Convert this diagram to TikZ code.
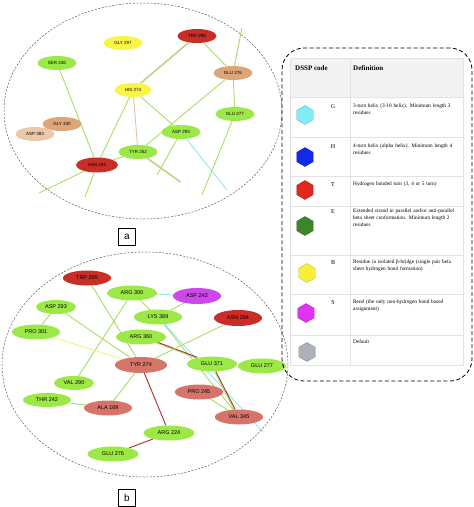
\documentclass[tikz,border=0pt]{standalone}
\usepackage{fontspec}
\setmainfont{Liberation Serif}
\setsansfont{Liberation Sans}
\usetikzlibrary{shapes.geometric,backgrounds}
\hyphenpenalty=10000

\definecolor{resgreen}{RGB}{155,232,70}
\definecolor{resred}{RGB}{200,45,40}
\definecolor{restan}{RGB}{222,165,120}
\definecolor{reslighttan}{RGB}{236,200,170}
\definecolor{resyellow}{RGB}{250,244,70}
\definecolor{ressalmon}{RGB}{214,116,106}
\definecolor{resmagenta}{RGB}{205,72,235}
\definecolor{edgegreen}{RGB}{168,222,100}
\definecolor{edgetan}{RGB}{228,188,155}
\definecolor{edgecyan}{RGB}{150,228,236}
\definecolor{edgered}{RGB}{175,40,40}
\definecolor{edgeyellow}{RGB}{245,240,120}
\definecolor{rulegray}{RGB}{226,226,226}
\definecolor{headgray}{RGB}{243,243,243}
\definecolor{hexcyan}{RGB}{130,236,246}
\definecolor{hexblue}{RGB}{20,40,232}
\definecolor{hexred}{RGB}{222,42,30}
\definecolor{hexgreen}{RGB}{62,132,42}
\definecolor{hexyellow}{RGB}{246,240,60}
\definecolor{hexmagenta}{RGB}{222,52,242}
\definecolor{hexgray}{RGB}{172,176,186}

\begin{document}
\begin{tikzpicture}[
      x=1pt, y=-1pt,
      res/.style={ellipse, inner sep=0pt},
      topres/.style={res, minimum width=39pt, minimum height=14pt,
          font=\sffamily\fontsize{4.5}{4.5}\selectfont},
      botres/.style={res, minimum width=48pt, minimum height=15pt,
          font=\sffamily\fontsize{5.5}{5.5}\selectfont},
      gres/.style={fill=resgreen},
      rres/.style={fill=resred},
      tres/.style={fill=restan},
      ltres/.style={fill=reslighttan},
      yres/.style={fill=resyellow},
      sres/.style={fill=ressalmon},
      mres/.style={fill=resmagenta},
      gline/.style={draw=edgegreen, line width=0.9pt},
      tline/.style={draw=edgetan, line width=0.8pt},
      cline/.style={draw=edgecyan, line width=0.9pt},
      rline/.style={draw=edgered, line width=0.9pt},
      yline/.style={draw=edgeyellow, line width=0.9pt},
      panel/.style={ellipse, draw=black!65, dash pattern=on 2pt off 1.5pt, line width=0.5pt},
      lbl/.style={draw, fill=white, minimum size=17pt, inner sep=0pt,
          font=\sffamily\fontsize{10}{10}\selectfont},
      hex/.style={regular polygon, regular polygon sides=6, shape border rotate=30,
          minimum size=19pt, inner sep=0pt, fill=#1, draw=#1!75!black, line width=0.3pt},
      code/.style={font=\fontsize{6}{6}\selectfont, inner sep=0pt},
      defn/.style={anchor=north west, text width=105pt, align=left, inner sep=0pt,
          font=\fontsize{5.3}{7}\selectfont}
    ]
    \useasboundingbox (0,0) rectangle (474,507);

    \node[panel, minimum width=278pt, minimum height=216pt] (panelA) at (143,111) {};
    \node[panel, minimum width=286pt, minimum height=225pt] (panelB) at (145,364.5) {};
    \node[lbl] (labA) at (127,237) {a};
    \node[lbl] (labB) at (127,498) {b};

    \node[topres, rres] (trpA) at (197,36) {TRP 295};
    \node[topres, yres] (glyA) at (123,43) {GLY 297};
    \node[topres, gres] (serA) at (57,63) {SER 246};
    \node[topres, tres] (glu276A) at (233,73) {GLU 276};
    \node[topres, yres, minimum width=37pt] (hisA) at (133,90) {HIS 274};
    \node[topres, gres] (glu277A) at (235,114) {GLU 277};
    \node[topres, tres] (glyB) at (62,124) {GLY 330};
    \node[topres, ltres] (aspA383) at (35,134) {ASP 383};
    \node[topres, gres] (aspA) at (181,132) {ASP 293};
    \node[topres, gres] (tyrA) at (138,152) {TYR 252};
    \node[topres, rres, minimum width=42pt, minimum height=15pt] (asnA) at (97,165) {ASN 294};
    \coordinate (topA) at (242,28);
    \coordinate (endA1) at (180,182);
    \coordinate (endA2) at (202,195);
    \coordinate (endA3) at (157,175);
    \coordinate (endA4) at (227,190);
    \coordinate (endA5) at (39,193);
    \coordinate (endA6) at (85,197);

    \node[botres, rres] (trpB) at (87,278) {TRP 295};
    \node[botres, gres, minimum width=50pt] (arg300B) at (132,293) {ARG 300};
    \node[botres, mres, minimum height=16pt] (asp242B) at (197,296) {ASP 242};
    \node[botres, gres, minimum width=40pt, minimum height=14pt] (asp293B) at (56,307) {ASP 293};
    \node[botres, gres] (lysB) at (158,317) {LYS 389};
    \node[botres, rres, minimum height=16pt] (asnB) at (238,318) {ASN 294};
    \node[botres, gres] (proB301) at (36,332) {PRO 301};
    \node[botres, gres, minimum width=50pt] (arg360B) at (141,337) {ARG 360};
    \node[botres, sres, minimum width=52pt, minimum height=16pt] (tyrB) at (141,365) {TYR 274};
    \node[botres, gres, minimum width=50pt] (glu371B) at (212,364) {GLU 371};
    \node[botres, gres] (glu277B) at (262,366) {GLU 277};
    \node[botres, gres, minimum width=40pt, minimum height=14pt] (valB290) at (74,383) {VAL 290};
    \node[botres, sres] (proB245) at (199,392) {PRO 245};
    \node[botres, gres, minimum height=14pt] (thrB) at (47,400) {THR 242};
    \node[botres, sres] (alaB) at (108,408) {ALA 169};
    \node[botres, sres] (valB345) at (239,417) {VAL 345};
    \node[botres, gres, minimum width=51pt] (arg224B) at (169,433) {ARG 224};
    \node[botres, gres, minimum width=51pt] (glu276B) at (113,454) {GLU 276};
    \coordinate (endB1) at (263,432);

    \begin{scope}[on background layer]
      \draw[gline] (serA) -- (asnA);
      \draw[gline] (hisA) -- (trpA);
      \draw[tline, transform canvas={xshift=-1.2pt}] (hisA) -- (trpA);
      \draw[gline] (hisA) -- (asnA);
      \draw[gline] (hisA) -- (aspA);
      \draw[tline] (hisA) -- (tyrA);
      \draw[gline] (tyrA) -- (endA1);
      \draw[tline, transform canvas={xshift=1.2pt}] (tyrA) -- (endA1);
      \draw[gline] (glu276A) -- (tyrA);
      \draw[gline] (trpA) -- (glu276A);
      \draw[gline] (glu276A) -- (topA);
      \draw[gline] (glu276A) -- (glu277A);
      \draw[gline] (glu277A) -- (endA2);
      \draw[gline] (aspA) -- (endA3);
      \draw[cline] (aspA) -- (endA4);
      \draw[gline] (asnA) -- (endA5);
      \draw[gline] (asnA) -- (endA6);
      \draw[gline] (tyrA) -- (asnA);

      \draw[gline] (trpB) -- (tyrB);
      \draw[gline] (arg300B) -- (valB290);
      \draw[cline] (arg300B) -- (asp242B);
      \draw[gline] (arg300B) -- (lysB);
      \draw[gline] (asp242B) -- (lysB);
      \draw[gline] (lysB) -- (valB345);
      \draw[cline] (lysB) -- (endB1);
      \draw[gline] (arg360B) -- (glu371B);
      \draw[rline, transform canvas={xshift=1.2pt, yshift=0.6pt}] (arg360B) -- (glu371B);
      \draw[rline] (glu371B) -- (valB345);
      \draw[gline, transform canvas={xshift=-1.3pt}] (glu371B) -- (valB345);
      \draw[gline] (proB245) -- (valB345);
      \draw[gline] (asp293B) -- (proB301);
      \draw[gline] (asp293B) -- (tyrB);
      \draw[yline] (proB301) -- (tyrB);
      \draw[gline] (asnB) -- (tyrB);
      \draw[gline] (tyrB) -- (alaB);
      \draw[rline] (tyrB) -- (arg224B);
      \draw[gline] (thrB) -- (alaB);
      \draw[rline] (arg224B) -- (glu276B);
    \end{scope}

    \node[draw, line width=0.8pt, dash pattern=on 4pt off 2.5pt, rounded corners=22pt,
      minimum width=190pt, minimum height=333pt] (legend) at (377,214.5) {};
    \fill[headgray] (290,58) rectangle (463,97);
    \draw[rulegray, line width=0.5pt] (290,58) rectangle (463,365);
    \foreach \yy in {97,137,176,206,255,294,335}
      \draw[rulegray, line width=0.6pt] (290,\yy) -- (463,\yy);
    \draw[rulegray, line width=0.6pt] (350,58) -- (350,365);

    \node[anchor=west, inner sep=0pt, font=\fontsize{7}{7}\selectfont\bfseries] (hcode) at (295,68) {DSSP code};
    \node[anchor=west, inner sep=0pt, font=\fontsize{7}{7}\selectfont\bfseries] (hdef) at (353,68) {Definition};

    \node[hex=hexcyan] (hexG) at (305,115) {};
    \node[code] (codeG) at (333,107) {G};
    \node[defn] (defG) at (353,104) {3-turn helix (3-10 helix). Minimum length 3 residues};

    \node[hex=hexblue] (hexH) at (305,157) {};
    \node[code] (codeH) at (333,147) {H};
    \node[defn] (defH) at (353,144) {4-turn helix (alpha helix). Minimum length 4 residues};

    \node[hex=hexred] (hexT) at (305,190) {};
    \node[code] (codeT) at (333,185) {T};
    \node[defn] (defT) at (353,182) {Hydrogen bonded turn (3, 4 or 5 turn)};

    \node[hex=hexgreen] (hexE) at (305,226) {};
    \node[code] (codeE) at (333,212) {E};
    \node[defn] (defE) at (353,209) {Extended strand in parallel and/or anti-parallel beta sheet conformation. Minimum length 2 residues};

    \node[hex=hexyellow] (hexB) at (307,273) {};
    \node[code] (codeB) at (333,263) {B};
    \node[defn] (defB) at (353,260) {Residue in isolated β-bridge (single pair beta sheet hydrogen bond formation)};

    \node[hex=hexmagenta] (hexS) at (306,313) {};
    \node[code] (codeS) at (333,303) {S};
    \node[defn] (defS) at (353,300) {Bend (the only non-hydrogen bond based assignment)};

    \node[hex=hexgray] (hexD) at (307,352) {};
    \node[defn] (defD) at (353,340) {Default};
  \end{tikzpicture}
\end{document}
